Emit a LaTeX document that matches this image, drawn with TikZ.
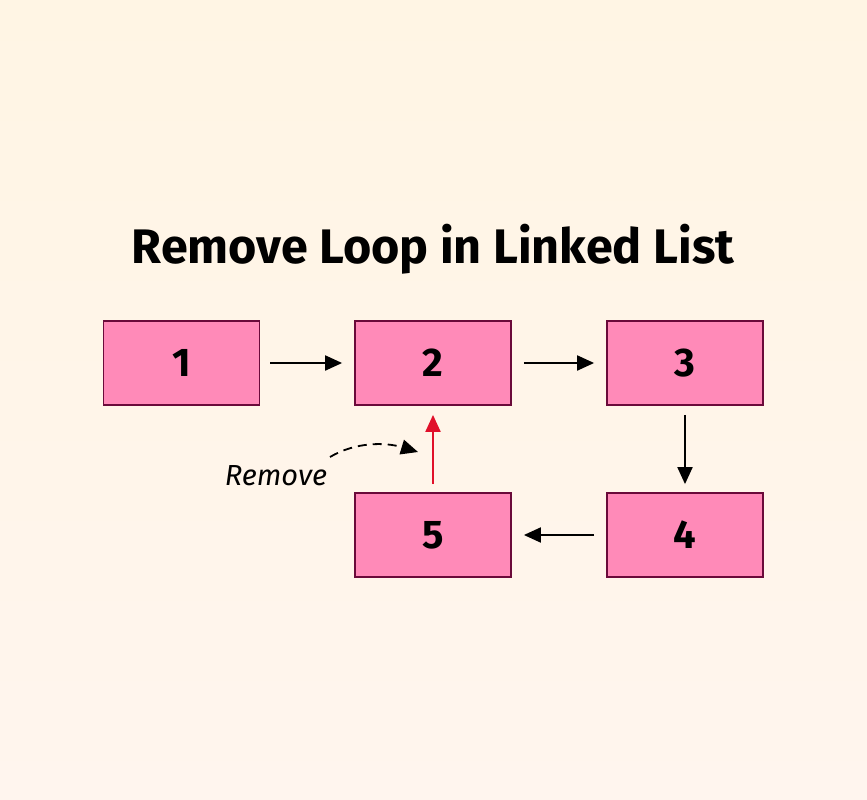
\documentclass[tikz,border=0pt]{standalone}
\usepackage{fontspec}
\setmainfont{Fira Sans}
\usetikzlibrary{arrows.meta}
\definecolor{bgA}{HTML}{FFF5E4}
\definecolor{bgB}{HTML}{FFF5EE}
\definecolor{boxfill}{HTML}{FF8AB8}
\definecolor{boxline}{HTML}{6A0A3A}
\definecolor{redline}{HTML}{E0102A}
\begin{document}
\begin{tikzpicture}[x=1pt,y=-1pt,
  listbox/.style={draw=boxline,fill=boxfill,line width=1.8pt,minimum width=156pt,minimum height=84pt,inner sep=0pt,font=\fontsize{40}{44}\selectfont\bfseries},
  link/.style={line width=2pt,-{Triangle[length=17pt,width=15pt]}}]
\useasboundingbox (0,0) rectangle (867,800);
\shade[top color=bgA,bottom color=bgB] (0,0) rectangle (867,800);
\node[font=\fontsize{48.5}{54}\selectfont\bfseries] (title) at (433,249) {Remove Loop in Linked List};
\node[listbox] (n1) at (181.5,363) {1};
\node[listbox] (n2) at (433,363) {2};
\node[listbox] (n3) at (685,363) {3};
\node[listbox] (n4) at (685,535) {4};
\node[listbox] (n5) at (433,535) {5};
\draw[link] ([xshift=10pt]n1.east) -- ([xshift=-12pt]n2.west);
\draw[link] ([xshift=12pt]n2.east) -- ([xshift=-12pt]n3.west);
\draw[link] ([yshift=-9pt]n3.south) -- ([yshift=8pt]n4.north);
\draw[link] ([xshift=-12pt]n4.west) -- ([xshift=12pt]n5.east);
\draw[link,draw=redline,fill=redline,redline] ([yshift=8pt]n5.north) -- ([yshift=-9pt]n2.south);
\node[font=\fontsize{29}{33}\selectfont\itshape] (rm) at (276,476) {Remove};
\coordinate (rmtip) at (418,452);
\draw[line width=1.8pt,dash pattern=on 9pt off 6pt,-{Triangle[length=17pt,width=15pt]}] (330,457) .. controls (355,442) and (385,442) .. (rmtip);
\end{tikzpicture}
\end{document}
